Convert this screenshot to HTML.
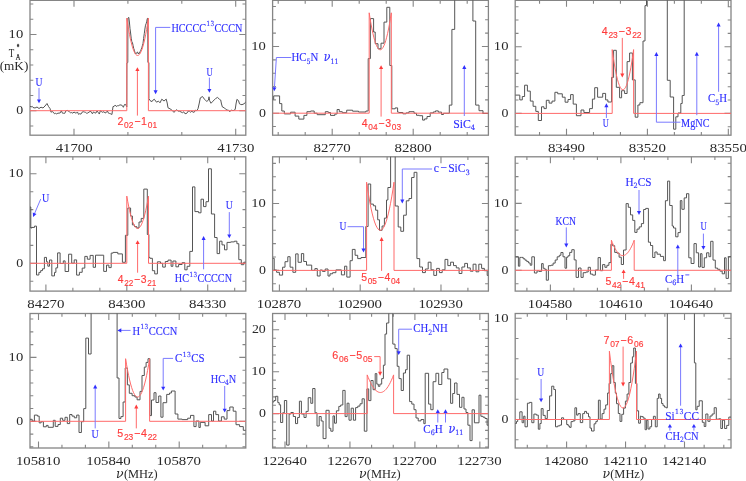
<!DOCTYPE html><html><head><meta charset="utf-8"><title>Spectra</title><style>html,body{margin:0;padding:0;background:#fff;}svg{display:block;}svg{font-family:"Liberation Serif", "DejaVu Serif", serif;}.tk{font-size:12.3px;fill:#222;}</style></head><body>
<svg width="746" height="481" viewBox="0 0 746 481">
<rect width="746" height="481" fill="#fff"/>
<defs>
<clipPath id="c0"><rect x="30" y="0.35" width="215.8" height="134.85"/></clipPath>
<clipPath id="c1"><rect x="272.6" y="0.35" width="215.8" height="134.85"/></clipPath>
<clipPath id="c2"><rect x="515.2" y="0.35" width="215.8" height="134.85"/></clipPath>
<clipPath id="c3"><rect x="30" y="156.8" width="215.8" height="134.3"/></clipPath>
<clipPath id="c4"><rect x="272.6" y="156.8" width="215.8" height="134.3"/></clipPath>
<clipPath id="c5"><rect x="515.2" y="156.8" width="215.8" height="134.3"/></clipPath>
<clipPath id="c6"><rect x="30" y="313.5" width="215.8" height="134.5"/></clipPath>
<clipPath id="c7"><rect x="272.6" y="313.5" width="215.8" height="134.5"/></clipPath>
<clipPath id="c8"><rect x="515.2" y="313.5" width="215.8" height="134.5"/></clipPath>
</defs>
<rect x="30" y="0.35" width="215.8" height="134.85" fill="none" stroke="#858585" stroke-width="1.3"/>
<path d="M74 135.2v-6.5M74 0.35v6.5M127.9 135.2v-3.3M127.9 0.35v3.3M181.8 135.2v-3.3M181.8 0.35v3.3M235.7 135.2v-6.5M235.7 0.35v6.5M30 125.94h3.3M245.8 125.94h-3.3M30 110.7h6.5M245.8 110.7h-6.5M30 95.46h3.3M245.8 95.46h-3.3M30 80.22h3.3M245.8 80.22h-3.3M30 64.98h3.3M245.8 64.98h-3.3M30 49.74h3.3M245.8 49.74h-3.3M30 34.5h6.5M245.8 34.5h-6.5M30 19.26h3.3M245.8 19.26h-3.3M30 4.02h3.3M245.8 4.02h-3.3" stroke="#858585" stroke-width="1.1" fill="none"/>
<rect x="272.6" y="0.35" width="215.8" height="134.85" fill="none" stroke="#858585" stroke-width="1.3"/>
<path d="M278.2 135.2v-3.3M278.2 0.35v3.3M305.2 135.2v-3.3M305.2 0.35v3.3M332.2 135.2v-6.5M332.2 0.35v6.5M359.2 135.2v-3.3M359.2 0.35v3.3M386.2 135.2v-3.3M386.2 0.35v3.3M413.2 135.2v-6.5M413.2 0.35v6.5M440.2 135.2v-3.3M440.2 0.35v3.3M467.2 135.2v-3.3M467.2 0.35v3.3M272.6 126.54h3.3M488.4 126.54h-3.3M272.6 113.2h6.5M488.4 113.2h-6.5M272.6 99.86h3.3M488.4 99.86h-3.3M272.6 86.52h3.3M488.4 86.52h-3.3M272.6 73.18h3.3M488.4 73.18h-3.3M272.6 59.84h3.3M488.4 59.84h-3.3M272.6 46.5h6.5M488.4 46.5h-6.5M272.6 33.16h3.3M488.4 33.16h-3.3M272.6 19.82h3.3M488.4 19.82h-3.3M272.6 6.48h3.3M488.4 6.48h-3.3" stroke="#858585" stroke-width="1.1" fill="none"/>
<rect x="515.2" y="0.35" width="215.8" height="134.85" fill="none" stroke="#858585" stroke-width="1.3"/>
<path d="M539.53 135.2v-3.3M539.53 0.35v3.3M566.5 135.2v-6.5M566.5 0.35v6.5M593.47 135.2v-3.3M593.47 0.35v3.3M620.44 135.2v-3.3M620.44 0.35v3.3M647.41 135.2v-6.5M647.41 0.35v6.5M674.38 135.2v-3.3M674.38 0.35v3.3M701.35 135.2v-3.3M701.35 0.35v3.3M728.32 135.2v-6.5M728.32 0.35v6.5M515.2 126.74h3.3M731 126.74h-3.3M515.2 113.4h6.5M731 113.4h-6.5M515.2 100.06h3.3M731 100.06h-3.3M515.2 86.72h3.3M731 86.72h-3.3M515.2 73.38h3.3M731 73.38h-3.3M515.2 60.04h3.3M731 60.04h-3.3M515.2 46.7h6.5M731 46.7h-6.5M515.2 33.36h3.3M731 33.36h-3.3M515.2 20.02h3.3M731 20.02h-3.3M515.2 6.68h3.3M731 6.68h-3.3" stroke="#858585" stroke-width="1.1" fill="none"/>
<rect x="30" y="156.8" width="215.8" height="134.3" fill="none" stroke="#858585" stroke-width="1.3"/>
<path d="M45.9 291.1v-6.5M45.9 156.8v6.5M72.87 291.1v-3.3M72.87 156.8v3.3M99.84 291.1v-3.3M99.84 156.8v3.3M126.81 291.1v-6.5M126.81 156.8v6.5M153.78 291.1v-3.3M153.78 156.8v3.3M180.75 291.1v-3.3M180.75 156.8v3.3M207.72 291.1v-6.5M207.72 156.8v6.5M234.69 291.1v-3.3M234.69 156.8v3.3M30 281.2h3.3M245.8 281.2h-3.3M30 263.3h6.5M245.8 263.3h-6.5M30 245.4h3.3M245.8 245.4h-3.3M30 227.5h3.3M245.8 227.5h-3.3M30 209.6h3.3M245.8 209.6h-3.3M30 191.7h3.3M245.8 191.7h-3.3M30 173.8h6.5M245.8 173.8h-6.5" stroke="#858585" stroke-width="1.1" fill="none"/>
<rect x="272.6" y="156.8" width="215.8" height="134.3" fill="none" stroke="#858585" stroke-width="1.3"/>
<path d="M279.4 291.1v-6.5M279.4 156.8v6.5M306.33 291.1v-3.3M306.33 156.8v3.3M333.26 291.1v-3.3M333.26 156.8v3.3M360.19 291.1v-6.5M360.19 156.8v6.5M387.12 291.1v-3.3M387.12 156.8v3.3M414.05 291.1v-3.3M414.05 156.8v3.3M440.98 291.1v-6.5M440.98 156.8v6.5M467.91 291.1v-3.3M467.91 156.8v3.3M272.6 283.78h3.3M488.4 283.78h-3.3M272.6 270.4h6.5M488.4 270.4h-6.5M272.6 257.02h3.3M488.4 257.02h-3.3M272.6 243.64h3.3M488.4 243.64h-3.3M272.6 230.26h3.3M488.4 230.26h-3.3M272.6 216.88h3.3M488.4 216.88h-3.3M272.6 203.5h6.5M488.4 203.5h-6.5M272.6 190.12h3.3M488.4 190.12h-3.3M272.6 176.74h3.3M488.4 176.74h-3.3M272.6 163.36h3.3M488.4 163.36h-3.3" stroke="#858585" stroke-width="1.1" fill="none"/>
<rect x="515.2" y="156.8" width="215.8" height="134.3" fill="none" stroke="#858585" stroke-width="1.3"/>
<path d="M526.9 291.1v-3.3M526.9 156.8v3.3M550.4 291.1v-6.5M550.4 156.8v6.5M573.9 291.1v-3.3M573.9 156.8v3.3M597.4 291.1v-3.3M597.4 156.8v3.3M620.9 291.1v-6.5M620.9 156.8v6.5M644.4 291.1v-3.3M644.4 156.8v3.3M667.9 291.1v-3.3M667.9 156.8v3.3M691.4 291.1v-6.5M691.4 156.8v6.5M714.9 291.1v-3.3M714.9 156.8v3.3M515.2 283.68h3.3M731 283.68h-3.3M515.2 270.3h6.5M731 270.3h-6.5M515.2 256.92h3.3M731 256.92h-3.3M515.2 243.54h3.3M731 243.54h-3.3M515.2 230.16h3.3M731 230.16h-3.3M515.2 216.78h3.3M731 216.78h-3.3M515.2 203.4h6.5M731 203.4h-6.5M515.2 190.02h3.3M731 190.02h-3.3M515.2 176.64h3.3M731 176.64h-3.3M515.2 163.26h3.3M731 163.26h-3.3" stroke="#858585" stroke-width="1.1" fill="none"/>
<rect x="30" y="313.5" width="215.8" height="134.5" fill="none" stroke="#858585" stroke-width="1.3"/>
<path d="M38.5 448v-6.5M38.5 313.5v6.5M61.95 448v-3.3M61.95 313.5v3.3M85.4 448v-3.3M85.4 313.5v3.3M108.85 448v-6.5M108.85 313.5v6.5M132.3 448v-3.3M132.3 313.5v3.3M155.75 448v-3.3M155.75 313.5v3.3M179.2 448v-6.5M179.2 313.5v6.5M202.65 448v-3.3M202.65 313.5v3.3M226.1 448v-3.3M226.1 313.5v3.3M30 446.86h3.3M245.8 446.86h-3.3M30 434.08h3.3M245.8 434.08h-3.3M30 421.3h6.5M245.8 421.3h-6.5M30 408.52h3.3M245.8 408.52h-3.3M30 395.74h3.3M245.8 395.74h-3.3M30 382.96h3.3M245.8 382.96h-3.3M30 370.18h3.3M245.8 370.18h-3.3M30 357.4h6.5M245.8 357.4h-6.5M30 344.62h3.3M245.8 344.62h-3.3M30 331.84h3.3M245.8 331.84h-3.3M30 319.06h3.3M245.8 319.06h-3.3" stroke="#858585" stroke-width="1.1" fill="none"/>
<rect x="272.6" y="313.5" width="215.8" height="134.5" fill="none" stroke="#858585" stroke-width="1.3"/>
<path d="M285 448v-6.5M285 313.5v6.5M306.65 448v-3.3M306.65 313.5v3.3M328.3 448v-3.3M328.3 313.5v3.3M349.95 448v-6.5M349.95 313.5v6.5M371.6 448v-3.3M371.6 313.5v3.3M393.25 448v-3.3M393.25 313.5v3.3M414.9 448v-6.5M414.9 313.5v6.5M436.55 448v-3.3M436.55 313.5v3.3M458.2 448v-3.3M458.2 313.5v3.3M479.85 448v-6.5M479.85 313.5v6.5M272.6 447.12h3.3M488.4 447.12h-3.3M272.6 438.74h3.3M488.4 438.74h-3.3M272.6 430.36h3.3M488.4 430.36h-3.3M272.6 421.98h3.3M488.4 421.98h-3.3M272.6 413.6h6.5M488.4 413.6h-6.5M272.6 405.22h3.3M488.4 405.22h-3.3M272.6 396.84h3.3M488.4 396.84h-3.3M272.6 388.46h3.3M488.4 388.46h-3.3M272.6 380.08h3.3M488.4 380.08h-3.3M272.6 371.7h6.5M488.4 371.7h-6.5M272.6 363.32h3.3M488.4 363.32h-3.3M272.6 354.94h3.3M488.4 354.94h-3.3M272.6 346.56h3.3M488.4 346.56h-3.3M272.6 338.18h3.3M488.4 338.18h-3.3M272.6 329.8h6.5M488.4 329.8h-6.5M272.6 321.42h3.3M488.4 321.42h-3.3" stroke="#858585" stroke-width="1.1" fill="none"/>
<rect x="515.2" y="313.5" width="215.8" height="134.5" fill="none" stroke="#858585" stroke-width="1.3"/>
<path d="M527.3 448v-3.3M527.3 313.5v3.3M546.95 448v-3.3M546.95 313.5v3.3M566.6 448v-6.5M566.6 313.5v6.5M586.25 448v-3.3M586.25 313.5v3.3M605.9 448v-3.3M605.9 313.5v3.3M625.55 448v-6.5M625.55 313.5v6.5M645.2 448v-3.3M645.2 313.5v3.3M664.85 448v-3.3M664.85 313.5v3.3M684.5 448v-6.5M684.5 313.5v6.5M704.15 448v-3.3M704.15 313.5v3.3M723.8 448v-3.3M723.8 313.5v3.3M515.2 439.76h3.3M731 439.76h-3.3M515.2 419.5h6.5M731 419.5h-6.5M515.2 399.24h3.3M731 399.24h-3.3M515.2 378.98h3.3M731 378.98h-3.3M515.2 358.72h3.3M731 358.72h-3.3M515.2 338.46h3.3M731 338.46h-3.3M515.2 318.2h6.5M731 318.2h-6.5" stroke="#858585" stroke-width="1.1" fill="none"/>
<g clip-path="url(#c0)">
<path d="M30 106.3 31.15 106.86 32.3 106.4 33 107.5 35 108 37 107 39 108.5 41 107.2 43 108 45 106 47 103.5 48.5 106.5 50 108.5 51 112.24 52.15 111.47 53.3 112.13 54.45 113.77 55.6 113.32 56.75 113.93 57.9 113.15 59.05 113.16 60.2 112.92 61.35 110.77 62.5 113.21 63.65 113.3 64.8 113.31 65.95 110.81 67.1 110.25 68.25 111.12 69.4 111.77 70.55 112.78 71.7 112.58 72.85 113.19 74 111.99 75.15 112.83 76.3 113.1 77.45 111.95 78.6 114.43 79.75 113.6 80.9 114.16 82.05 112.21 83.2 111.68 84.35 112.02 85.5 112.36 86.65 113.27 87.8 113.02 88.95 112.17 90.1 111.42 91.25 111.77 92.4 113.83 93.55 111.92 94.7 112.74 95.85 113.12 97 111 98.15 112.34 99.3 114.04 100.45 110.59 101.6 111.83 102.75 112.33 103.9 111.61 105.05 112.97 106.2 112.6 107.35 110.93 108.5 113.21 109.65 113.49 110.8 113.86 111.95 114.49 113 106.55 114.15 106.38 115.3 104.99 116.45 106.55 117.6 105.68 118.75 105.66 119.9 104.88 121.05 105.01 122.2 105.45 123.35 107.29 124.5 104.47 125.65 104.45 126.8 107 126.9 63 127.8 62.5 127.9 18 128.8 17.4 129.4 22 130 28.7 130.6 33 131.2 38.2 131.8 41.5 132.5 43 133.1 45.5 133.7 48.4 134.4 50.3 135 52.8 135.6 54 136.3 52.8 136.9 53.4 137.4 52 138.1 52.6 138.7 54 139.3 53.4 140 51.8 140.6 50.8 141.2 49.3 141.9 47.4 142.5 45.2 143 43.4 143.6 38.5 144.3 33.5 144.9 29 145.5 25.2 146.1 23.8 146.8 21.2 147.3 18.5 147.8 18.2 147.9 62.4 148.9 62.6 148.9 98.6 149 98.73 150 100.59 152 101.62 153.15 99.91 154.3 99.21 156.5 102.2 158.4 101.1 160 102.8 161.8 99.18 164 101.04 166.2 99.1 167.2 103 168 107.81 170 108.79 172 110.24 174 112.4 175.25 110.9 176.5 109.64 178 111.03 179.5 111.24 181 111.94 182.5 112.7 183.67 111.77 184.83 113.57 186 113.63 187.17 112.89 188.33 111.01 189.5 111.25 190.67 112.3 191.83 111.07 193 112.2 194.25 112.16 195.5 110.18 196.75 110.69 198 108.7 199.3 103 200.3 97.9 202.5 96.52 204.5 99.28 205.65 100.56 206.8 101.37 208.4 100.13 209 96.8 209.6 100.64 211 103.27 213 101.17 214.25 99.86 215.5 98.62 217.5 97.42 219.5 99.31 220.7 100 221.5 104 222.4 106.96 224.5 107.94 225.75 109.33 227 110.02 228.5 110.34 230 111.67 231.5 109.94 233 110.79 235.2 109.5 236 104 236.9 99.4 238.5 100.57 239.5 103.85 240.75 104.47 242 104.67 244 103.79 245.8 102" stroke="#555555" stroke-width="1.0" fill="none" stroke-linejoin="round"/>
<path d="M30 110.7L126.8 110.7L126.8 18.1L126.8 18.1L127.7 24.07L128.6 29.53L129.5 34.46L130.4 38.88L131.3 42.77L132.2 46.15L133.1 49.01L134 51.34L134.9 53.16L135.8 54.46L136.7 55.24L137.6 55.5L138.5 55.24L139.4 54.46L140.3 53.16L141.2 51.34L142.1 49.01L143 46.15L143.9 42.77L144.8 38.88L145.7 34.46L146.6 29.53L147.5 24.07L148.4 18.1L148.4 18.1L148.4 110.7L245.8 110.7" stroke="#ff6a6a" stroke-width="1.0" fill="none"/>
</g>
<g clip-path="url(#c1)">
<path d="M272.6 99.2H273.7V95.9H279.6V103.6H281.8V111H284.3V113.9H290.6V112.2H295.1V116.1H298.8V119.1H303.9V115.4H306.9V111.7H310.6V111H314.2V113.2H317.2V114.7H325.3V111.7H328.3V112.5H330.5V115.4H334.9V114H337.1V109.5H339.3V111.7H342.3V112.7H346.7V110.2H352.6V111.2H358.5V112H365.9V111H368.2V58.6H370.4V18.6H373.6V32H375.2V43.7H378V48.8H381V43.2H384V22.1H386.8V7.3H389.8V65.5H391.8V108.8H395.2V107.9H397.6V112.1H398.8V112.5H402.9V113.8H406.1V112.9H408.9V111.7H414.1V113.3H416.5V115.3H419.4V115.7H422.6V120.1H424.6V118.9H427V116.5H430.2V112.9H433.4V111.9H435.5V110.9H438.3V112.1H441.5V114.5H443.5V113.3H449.3V105.1H451.9V29.4H454.7V-30H472.9V21H475.7V105.1H479V110.7H483V113.5H488.4" stroke="#555555" stroke-width="1.0" fill="none"/>
<path d="M272.6 113.2L369.2 113.2L369.2 12.8L369.2 12.8L370.12 18.71L371.04 24.11L371.96 28.99L372.88 33.36L373.8 37.21L374.73 40.55L375.65 43.38L376.57 45.69L377.49 47.49L378.41 48.77L379.33 49.54L380.25 49.8L381.17 49.54L382.09 48.77L383.01 47.49L383.93 45.69L384.85 43.38L385.77 40.55L386.7 37.21L387.62 33.36L388.54 28.99L389.46 24.11L390.38 18.71L391.3 12.8L391.3 12.8L391.3 113.2L488.4 113.2" stroke="#ff6a6a" stroke-width="1.0" fill="none"/>
</g>
<g clip-path="url(#c2)">
<path d="M515.2 95.1H519.8V99.9H522.3V96.5H524.6V85.2H527.4V91.1H530.3V101.1H533.1V106.3H535.8V111.4H538.3V120.5H541.5V106.8H544V108.6H546.3V100.3H549.1V103.1H552V101.1H554.9V92.3H557.7V93.8H562.3V97.2H565.1V102.2H568V99.5H570.6V94.6H573.2V104.1H576.4V115.7H581V110H583.9V112.5H589.6V108.6H592.4V99.1H594.7V87.7H597.6V97.2H602.7V93.4H605.6V99.9H607.9V102H611.6V77.4H613.6V50.3H616.3V87.3H619.6V97.8H621.6V90.7H624.6V93.5H627.1V61.6H629.6V53H632.4V79.9H635.2V117.2H637.9V105H639.9V102.7H643V41H645V5.6H646.5V-30H667.3V80.3H670.2V97H673.6V129.2H675.8V116.8H678V113H680.8V103.5H682.2V95.5H684.2V-30H731" stroke="#555555" stroke-width="1.0" fill="none"/>
<path d="M515.2 113.4L612.2 113.4L612.2 49.6L612.2 49.6L613.09 56.02L613.98 61.88L614.88 67.19L615.77 71.93L616.66 76.12L617.55 79.75L618.44 82.82L619.33 85.33L620.23 87.29L621.12 88.68L622.01 89.52L622.9 89.8L623.79 89.52L624.68 88.68L625.58 87.29L626.47 85.33L627.36 82.82L628.25 79.75L629.14 76.12L630.03 71.93L630.93 67.19L631.82 61.88L632.71 56.02L633.6 49.6L633.6 49.6L633.6 113.4L731 113.4" stroke="#ff6a6a" stroke-width="1.0" fill="none"/>
</g>
<g clip-path="url(#c3)">
<path d="M30 207H30.8V228H31.9V227.4H34.5V226.1H36.5V275H38.9V272.4H40.7V270.6H42.5V268.8H44.4V257.4H46.5V261.8H47.8V266.2H49.5V260H51.8V275.9H54.5V272.4H55.9V267.9H57.6V252.9H60.1V263.5H63.3V260.9H65.1V271.5H68.6V254.2H71.7V263.2H74.2V259.9H76.6V275.1H79.4V272.3H82.2V268.1H84.8V256.4H87.3V259.2H90.1V255.4H93.2V267.3H95.5V255.2H103.7V271.4H106.5V265.1H108.9V267.6H111.2V253.1H113.1V252.4H117.8V253.9H122.4V262.3H125.4V235.3H127.8V208H130.6V216H132.4V224.9H134.5V226.6H136.8V228H139V222H141.2V218.4H143.8V189.1H147.3V234.5H148.9V257.4H149.9V258.3H152.4V270.7H154.7V273.9H157.4V261.8H160.5V263.3H162.7V267.1H165.3V261.5H168V260.1H171.1V266.3H172.9V261H175.9V266.8H178.6V264.5H182.1V262.7H184.8V269.8H187.1V266.3H189.8V251.4H192.5V186.9H194.9V211.6H198.6V212.8H201V199.2H203.5V206.6H206V201.7H208.5V168.8H211.4V214H214.6V237.5H217.1V253.6H219.6V241.2H222V244.9H224.5V249.8H227V242.4H230.7V241.9H234.4V241.2H236.9V243.7H238.8V259.7H241.3V264.7H243.8V262.2H245.8" stroke="#555555" stroke-width="1.0" fill="none"/>
<path d="M30 263.3L126.8 263.3L126.8 196.1L126.8 196.1L127.7 201.27L128.61 206L129.51 210.27L130.42 214.1L131.32 217.47L132.22 220.4L133.13 222.87L134.03 224.9L134.94 226.47L135.84 227.6L136.75 228.28L137.65 228.5L138.55 228.28L139.46 227.6L140.36 226.47L141.27 224.9L142.17 222.88L143.07 220.4L143.98 217.48L144.88 214.1L145.79 210.28L146.69 206L147.6 201.28L148.5 196.1L148.5 196.1L148.5 263.3L245.8 263.3" stroke="#ff6a6a" stroke-width="1.0" fill="none"/>
</g>
<g clip-path="url(#c4)">
<path d="M272.6 258.3H274.2V270H276.6V272.3H279.4V275.1H282.6V267.2H285V261.7H287.8V256.7H290.1V267.2H292.9V272.3H295.7V253.9H298.1V262.3H301.4V253.6H303.7V261.5H306.5V265.1H311.7V270.4H314.9V268.6H317.3V276H320.1V270H322.4V271.4H325.2V269H328V276H330V273.8H332.6V272.7H335.9V269.9H341.4V274.9H344.6V266.2H346.8V277.1H350.1V260.7H352.3V249.4H355.1V255.3H357.7V258.6H361V257.5H365.8V226.5H368.1V184H370.7V204.1H373.4V205.8H375.6V210.2H377.7V219.8H379.5V230.3H382.1V226H384.4V218.1H386.5V200H387.9V187.5H390.6V-30H395.2V206H398.2V227H400.8V231.3H403.6V215.2H406.3V200.8H409V198.5H411.6V177.5H414.1V172.3H416.9V258.6H419.7V267H422.5V272.6H425.4V269H428.2V262.2H431V269.8H433.8V275.4H436.6V268.4H439.4V272.6H442.2V269.8H445V259.4H447.8V265.6H450.6V262.2H453.5V265.6H456.3V267.9H459.1V273.5H461.9V267H464.7V263.4H467.5V267.9H470.3V271.2H473.1V264.2H476V271.8H478.8V264.2H481.6V268.4H484.4V270.7H487.2V275.4H488.4" stroke="#555555" stroke-width="1.0" fill="none"/>
<path d="M272.6 270.4L366.6 270.4L366.6 182.2L366.6 182.2L367.74 189.88L368.88 196.9L370.03 203.24L371.17 208.92L372.31 213.93L373.45 218.28L374.59 221.95L375.73 224.96L376.88 227.29L378.02 228.96L379.16 229.97L380.3 230.3L381.44 229.97L382.58 228.96L383.73 227.29L384.87 224.96L386.01 221.95L387.15 218.28L388.29 213.93L389.43 208.92L390.57 203.24L391.72 196.9L392.86 189.88L394 182.2L394 182.2L394 270.4L488.4 270.4" stroke="#ff6a6a" stroke-width="1.0" fill="none"/>
</g>
<g clip-path="url(#c5)">
<path d="M515.2 256.8H518.4V266.2H519.8V257.4H521.4V257.4H523.2V258.8H525V260.2H526.8V261.6H528.6V263H530.2V265.2H531.8V256.8H534.4V273H537V270.9H539V271.4H541.6V263.6H543.2V268.3H544.8V269.3H546.3V280.2H548.4V265.7H551V265.2H553.1V263.1H555.2V260H557.2V256.8H559.3V255.3H560.9V252.5H563V256.8H565V268.2H566.6V257.2H568V255.8H569.7V252.4H571.8V249.7H574.2V259.9H576.1V277.4H578.5V268H581V277.4H583.2V272.7H585.9V272H588.2V267.3H590.4V274.1H592.7V275.1H595.4V270H598.1V257.6H600.4V270.7H602.6V264.6H604.9V267.3H606.9V265.3H608.9V262.6H610.9V244.3H612.6V245.7H614.7V252.4H617V253.1H619.1V257.2H621.3V264.5H623.5V250H626.1V203.6H628.3V207.3H630.5V214.9H632.7V220.4H634.8V232.4H637V229.1H639.2V226.9H641.4V223.6H643.6V209.5H645.7V208.4H648.4V242.2H650.5V245.5H652.7V257.5H654.9V252H657.1V254.2H660.4V256.4H663.6V260.7H665.4V200.7H667.6V181.1H669.7V205.5H672.2V226H673.5V228H675.7V236.8H678V232.6H680.3V200.6H681.9V209.3H684.2V197.9H686.5V193.7H688.8V257.8H691.1V263.5H694V243.6H696.3V252.8H698.6V267H700.4V253.7H702V267.4H704.3V257.8H706.6V252.8H708.9V256.7H710.7V241.3H713V260.1H715.3V268.1H717.6V269.3H719.9V271.1H722.2V273.8H724.5V257.8H726.1V278.4H728.4V256.7H731" stroke="#555555" stroke-width="1.0" fill="none"/>
<path d="M515.2 270.3L611.4 270.3L611.4 240.2L611.4 240.2L612.35 242.66L613.3 244.91L614.25 246.94L615.2 248.76L616.15 250.36L617.1 251.75L618.05 252.93L619 253.89L619.95 254.64L620.9 255.17L621.85 255.49L622.8 255.6L623.75 255.49L624.7 255.17L625.65 254.64L626.6 253.89L627.55 252.93L628.5 251.75L629.45 250.36L630.4 248.76L631.35 246.94L632.3 244.91L633.25 242.66L634.2 240.2L634.2 240.2L634.2 270.3L731 270.3" stroke="#ff6a6a" stroke-width="1.0" fill="none"/>
</g>
<g clip-path="url(#c6)">
<path d="M30 419.3H32.2V421.2H34.4V415.1H37.4V416.1H39.2V422.9H41.1V421.7H43.4V426.8H46.3V425.4H48.1V427.3H53.3V420.3H55.2V426.4H58V424.5H60.3V418.2H62.6V420.3H65V417.3H67.3V423.6H69.7V414.5H72V416.1H74.3V417.8H76.7V415.1H79V432.5H81.4V421.7H83.7V408.6H85.8V338.1H88.5V354H91.1V-30H117.1V378H119V418.5H120.9V416.6H123.1V402H125.2V368H127.4V384.9H129.3V393.3H132.1V395.7H134.9V397H137.1V399.8H140V391.4H142V375.5H144.3V367.1H146.1V362.4H148V358.7H149.9V415.6H151.5V400H154V392.7H156V402.5H158.7V396H160.9V417.2H163V402.7H166.7V394.4H169.5V393H171.4V391H175.1V414H177.9V419.1H182.1V419.6H187.7V418.2H190.5V415.4H193.9V426.6H196.1V421H198.9V427.5H200.3V422.4H205.1V425.8H208.7V414.6H211.5V421H213.5V411.2H215.8V414.6H218.6V421H221.4V416.8H224.2V419.1H227V410.6H229.8V407H233.2V411.2H236V424.7H239.6V426.6H243.3V430.3H245.8" stroke="#555555" stroke-width="1.0" fill="none"/>
<path d="M30 421.3L125.6 421.3L125.6 358.7L125.6 358.7L126.6 364.82L127.6 370.4L128.6 375.46L129.6 379.98L130.6 383.97L131.6 387.43L132.6 390.35L133.6 392.74L134.6 394.61L135.6 395.94L136.6 396.73L137.6 397L138.6 396.73L139.6 395.94L140.6 394.61L141.6 392.74L142.6 390.35L143.6 387.43L144.6 383.97L145.6 379.98L146.6 375.46L147.6 370.4L148.6 364.82L149.6 358.7L149.6 358.7L149.6 421.3L245.8 421.3" stroke="#ff6a6a" stroke-width="1.0" fill="none"/>
</g>
<g clip-path="url(#c7)">
<path d="M272.6 401.9H274V400.5H275.7V396.3H277.8V402.6H279.2V404.8H280.6V422.5H282.7V412.8H284.4V400.5H286.7V445.1H289.1V414H290.9V412.5H293.3V416.5H295.5V423.6H297.6V417.5H299.4V401.2H301.4V414H304V417.5H306.1V411.4H308.2V397.7H310.8V403.3H312.7V388.5H315V412.8H317V426H319.2V416.5H321.2V421H323.1V438.6H326V410.3H329.1V428.3H330.8V431.2H333V415.9H334.5V423.2H336.4V410.8H338.8V406.4H340.7V405H342.8V390.4H345.1V416.6H347.1V403.2H349V420.2H351.2V408.2H353.4V420.2H355.6V407.6H357.8V406.1H360V403.8H362.1V398.8H364.3V431.2H366.9V388.9H368.7V400.6H370.9V380.5H373.1V389.7H375.2V373.6H376.8V384.1H378.3V386.3H379.9V384.1H381.7V378.6H383.4V365.2H385V334.1H386.6V323H388.8V-30H392.8V344.1H395V348.6H397.2V366.3H399V378.6H401.2V390.5H403.4V373H405.5V369.7H407.2V355.2H409.6V401.6H411.8V404.1H414V409.7H416V418H418.2V420.9H421V419.5H423.8V423.7H425.2V373.3H428.6V404.1H430.8V409.7H433.1V381.7H435.9V373.3H438.7V384.5H441.8V372.5H444V369H447.8V378.9H450.6V403.3H452.7V393.5H454.6V383H457V394.4H459.5V407.3H461.9V397.3H464V409H466V412.5H467.9V425.2H470V440.6H472.1V409.8H474.4V422.8H479V395.2H480.9V416.3H483V417.2H485V418.5H487.1V425.2H488.4" stroke="#555555" stroke-width="1.0" fill="none"/>
<path d="M272.6 413.6L367.2 413.6L367.2 374.9L367.2 374.9L368.3 377.71L369.4 380.28L370.5 382.6L371.6 384.68L372.7 386.51L373.8 388.1L374.9 389.44L376 390.54L377.1 391.4L378.2 392.01L379.3 392.38L380.4 392.5L381.5 392.38L382.6 392.01L383.7 391.4L384.8 390.54L385.9 389.44L387 388.1L388.1 386.51L389.2 384.68L390.3 382.6L391.4 380.28L392.5 377.71L393.6 374.9L393.6 374.9L393.6 413.6L488.4 413.6" stroke="#ff6a6a" stroke-width="1.0" fill="none"/>
</g>
<g clip-path="url(#c8)">
<path d="M515.2 423.5H516.5V421.5H517.7V419.5H519.8V411.8H522.1V422.7H523.7V416.2H525V426.8H527.4V403.2H529.5V402.4H531.8V422.7H533.9V414.1H536.3V415.1H538.3V429.2H539.9V423.5H541.2V408.6H543.1V415.4H545.2V418.6H547.3V410.5H549.6V395.9H551.7V386.2H553.8V389.5H555.5V426.8H557.7V425.9H559.8V425.1H561.5V417.8H563.6V419.5H566.7V424.5H568.2V426H569.6V427.4H571.1V421.6H573V420.9H574.9V407.8H576.6V415.1H578.1V413.6H580.3V422.6H582.7V413.6H584.6V411.4H586.5V413.3H588.5V416.8H590V428.1H591.5V431H594.1V423.8H595.8V421.6H597.3V419.4H598.4V400.2H600.2V419.1H602.1V413.6H604V409.2H605.7V404.9H607.6V393H609.1V383.4H610.7V373.6H612.1V365.7H613.8V382.5H615.3V393.1H616.5V403.7H618.3V413.5H620V421.4H621.8V414.3H623.6V408.1H625.4V401.1H627.1V394H628.9V382.5H630.7V363H632.4V356.8H633.7V348H635.4V383.4H636.9V410.8H638.6V423.2H640.4V416.1H641.2V416.6H643.2V418.1H645.1V429.7H646.6V420.2H648V429H649.9V426.8H651.6V419.5H653.4V416.3H655.3V426.8H657.2V398.4H658.6V394H660.1V398.4H661.6V403.5H663V405.7H664.5V407.1H666.2V407.9H667.3V-30H694.4V362.9H695.8V409.8H697.1V406.3H699.2V400.8H702.3V422.3H704.2V426.5H705.8V414H707.9V421.3H710V416H712.1V414H714.2V407.7H716.3V419.2H718.8V418.8H720.8V428.5H722.5V420.2H724.6V428.5H726.7V425.4H728.8V417.1H731" stroke="#555555" stroke-width="1.0" fill="none"/>
<path d="M515.2 419.5L609.4 419.5L609.4 351.2L609.4 351.2L610.53 360.27L611.66 368.56L612.79 376.05L613.92 382.76L615.05 388.67L616.17 393.8L617.3 398.14L618.43 401.69L619.56 404.45L620.69 406.42L621.82 407.61L622.95 408L624.08 407.61L625.21 406.42L626.34 404.45L627.47 401.69L628.6 398.14L629.73 393.8L630.85 388.67L631.98 382.76L633.11 376.05L634.24 368.56L635.37 360.27L636.5 351.2L636.5 351.2L636.5 419.5L731 419.5" stroke="#ff6a6a" stroke-width="1.0" fill="none"/>
</g>
<g transform="translate(35.51 86.2) scale(0.767 1)" fill="#3030ff" font-size="12.6" stroke="#3030ff" stroke-width="0.15"><text x="0" y="0">U</text></g>
<path d="M39 87.9L39 99.9" stroke="#7a7aff" stroke-width="1.0" fill="none"/><path d="M39 103.3L36.95 99.4L41.05 99.4Z" fill="#3030ff"/>
<g transform="translate(206.53 75.5) scale(0.686 1)" fill="#3030ff" font-size="12.6" stroke="#3030ff" stroke-width="0.15"><text x="0" y="0">U</text></g>
<path d="M209.4 77.6L209.4 89.4" stroke="#7a7aff" stroke-width="1.0" fill="none"/><path d="M209.4 92.8L207.35 88.9L211.45 88.9Z" fill="#3030ff"/>
<g transform="translate(171.42 31.7) scale(0.811 1)" fill="#3030ff" font-size="12.6" stroke="#3030ff" stroke-width="0.15"><text x="0" y="0">HCCCC</text><text x="43.22" y="-5.4" font-size="7.03" font-family="DejaVu Serif, serif" letter-spacing="0.5">13</text><text x="53.16" y="0">CCCN</text></g>
<path d="M170.3 27.4L155.6 27.4" stroke="#7a7aff" stroke-width="1.0" fill="none"/>
<path d="M155.6 27.4L155.6 90.8" stroke="#7a7aff" stroke-width="1.0" fill="none"/><path d="M155.6 94.2L153.55 90.3L157.65 90.3Z" fill="#3030ff"/>
<g transform="translate(117.47 124.7) scale(1.024 1)" fill="#ff3c3c" font-size="10.4" font-family="Liberation Sans, Arial, sans-serif" stroke="#ff3c3c" stroke-width="0.15"><text x="0" y="0">2</text><text x="6.48" y="3" font-size="8.22">02</text><text x="16.32" y="0">−</text><text x="23.1" y="0">1</text><text x="29.58" y="3" font-size="8.22">01</text></g>
<path d="M137.4 115.6L137.4 70.6" stroke="#ff6a6a" stroke-width="1.0" fill="none"/><path d="M137.4 67.2L139.45 71.1L135.35 71.1Z" fill="#ff3c3c"/>
<g transform="translate(291.5 61.4) scale(0.860 1)" fill="#3030ff" font-size="12.6" stroke="#3030ff" stroke-width="0.15"><text x="0" y="0">HC</text><text x="17.5" y="2.4" font-size="7.38" font-family="DejaVu Serif, serif">5</text><text x="22.2" y="0">N</text><text x="37.6" y="0" font-style="italic" font-family="DejaVu Serif, serif">ν</text><text x="45.26" y="2.4" font-size="7.38" font-family="DejaVu Serif, serif">11</text></g>
<path d="M291.3 57.5L276.4 57.5" stroke="#7a7aff" stroke-width="1.0" fill="none"/>
<path d="M276.4 57.5L274.42 87.91" stroke="#7a7aff" stroke-width="1.0" fill="none"/><path d="M274.2 91.3L272.41 87.28L276.5 87.54Z" fill="#3030ff"/>
<g transform="translate(361.76 126.5) scale(1.015 1)" fill="#ff3c3c" font-size="10.4" font-family="Liberation Sans, Arial, sans-serif" stroke="#ff3c3c" stroke-width="0.15"><text x="0" y="0">4</text><text x="6.48" y="3" font-size="8.22">04</text><text x="16.32" y="0">−</text><text x="23.1" y="0">3</text><text x="29.58" y="3" font-size="8.22">03</text></g>
<path d="M381.1 116.6L381.1 68.6" stroke="#ff6a6a" stroke-width="1.0" fill="none"/><path d="M381.1 65.2L383.15 69.1L379.05 69.1Z" fill="#ff3c3c"/>
<g transform="translate(453.21 127.9) scale(0.934 1)" fill="#3030ff" font-size="12.6" stroke="#3030ff" stroke-width="0.15"><text x="0" y="0">SiC</text><text x="18.91" y="2.4" font-size="7.38" font-family="DejaVu Serif, serif">4</text></g>
<path d="M464.3 116L464.3 68.4" stroke="#7a7aff" stroke-width="1.0" fill="none"/><path d="M464.3 65L466.35 68.9L462.25 68.9Z" fill="#3030ff"/>
<g transform="translate(601.76 34.7) scale(1.027 1)" fill="#ff3c3c" font-size="10.4" font-family="Liberation Sans, Arial, sans-serif" stroke="#ff3c3c" stroke-width="0.15"><text x="0" y="0">4</text><text x="6.48" y="3" font-size="8.22">23</text><text x="16.32" y="0">−</text><text x="23.1" y="0">3</text><text x="29.58" y="3" font-size="8.22">22</text></g>
<path d="M622.3 37.9L622.3 74" stroke="#ff6a6a" stroke-width="1.0" fill="none"/><path d="M622.3 77.4L620.25 73.5L624.35 73.5Z" fill="#ff3c3c"/>
<g transform="translate(602.73 127.4) scale(0.674 1)" fill="#3030ff" font-size="12.6" stroke="#3030ff" stroke-width="0.15"><text x="0" y="0">U</text></g>
<path d="M606.4 117.9L606.4 106.7" stroke="#7a7aff" stroke-width="1.0" fill="none"/><path d="M606.4 103.3L608.45 107.2L604.35 107.2Z" fill="#3030ff"/>
<g transform="translate(681.12 126.9) scale(0.812 1)" fill="#3030ff" font-size="12.6" stroke="#3030ff" stroke-width="0.15"><text x="0" y="0">MgNC</text></g>
<path d="M680.4 122.2L656.4 122.2" stroke="#7a7aff" stroke-width="1.0" fill="none"/>
<path d="M656.4 122.2L656.4 55.4" stroke="#7a7aff" stroke-width="1.0" fill="none"/><path d="M656.4 52L658.45 55.9L654.35 55.9Z" fill="#3030ff"/>
<path d="M696.8 115.2L696.8 55.2" stroke="#7a7aff" stroke-width="1.0" fill="none"/><path d="M696.8 51.8L698.85 55.7L694.75 55.7Z" fill="#3030ff"/>
<g transform="translate(708.07 102.2) scale(0.854 1)" fill="#3030ff" font-size="12.6" stroke="#3030ff" stroke-width="0.15"><text x="0" y="0">C</text><text x="8.4" y="2.4" font-size="7.38" font-family="DejaVu Serif, serif">5</text><text x="13.1" y="0">H</text></g>
<path d="M718.6 91.8L718.6 25.9" stroke="#7a7aff" stroke-width="1.0" fill="none"/><path d="M718.6 22.5L720.65 26.4L716.55 26.4Z" fill="#3030ff"/>
<g transform="translate(42 201.6) scale(0.802 1)" fill="#3030ff" font-size="12.6" stroke="#3030ff" stroke-width="0.15"><text x="0" y="0">U</text></g>
<path d="M40.7 199.1L34.44 213.77" stroke="#7a7aff" stroke-width="1.0" fill="none"/><path d="M33.1 216.9L32.75 212.51L36.52 214.12Z" fill="#3030ff"/>
<g transform="translate(117.77 283) scale(0.993 1)" fill="#ff3c3c" font-size="10.4" font-family="Liberation Sans, Arial, sans-serif" stroke="#ff3c3c" stroke-width="0.15"><text x="0" y="0">4</text><text x="6.48" y="3" font-size="8.22">22</text><text x="16.32" y="0">−</text><text x="23.1" y="0">3</text><text x="29.58" y="3" font-size="8.22">21</text></g>
<path d="M137.6 272.7L137.6 243.6" stroke="#ff6a6a" stroke-width="1.0" fill="none"/><path d="M137.6 240.2L139.65 244.1L135.55 244.1Z" fill="#ff3c3c"/>
<g transform="translate(174.82 282.2) scale(0.810 1)" fill="#3030ff" font-size="12.6" stroke="#3030ff" stroke-width="0.15"><text x="0" y="0">HC</text><text x="18" y="-5.4" font-size="7.03" font-family="DejaVu Serif, serif" letter-spacing="0.5">13</text><text x="27.95" y="0">CCCCN</text></g>
<path d="M203.6 269.3L203.6 239.4" stroke="#7a7aff" stroke-width="1.0" fill="none"/><path d="M203.6 236L205.65 239.9L201.55 239.9Z" fill="#3030ff"/>
<g transform="translate(225.7 208.8) scale(0.779 1)" fill="#3030ff" font-size="12.6" stroke="#3030ff" stroke-width="0.15"><text x="0" y="0">U</text></g>
<path d="M229.3 212.1L229.3 234.9" stroke="#7a7aff" stroke-width="1.0" fill="none"/><path d="M229.3 238.3L227.25 234.4L231.35 234.4Z" fill="#3030ff"/>
<g transform="translate(339.51 229.8) scale(0.756 1)" fill="#3030ff" font-size="12.6" stroke="#3030ff" stroke-width="0.15"><text x="0" y="0">U</text></g>
<path d="M347.6 226.7L363.5 226.7" stroke="#7a7aff" stroke-width="1.0" fill="none"/>
<path d="M363.5 226.7L363.5 249" stroke="#7a7aff" stroke-width="1.0" fill="none"/><path d="M363.5 252.4L361.45 248.5L365.55 248.5Z" fill="#3030ff"/>
<g transform="translate(361.18 280.5) scale(1.009 1)" fill="#ff3c3c" font-size="10.4" font-family="Liberation Sans, Arial, sans-serif" stroke="#ff3c3c" stroke-width="0.15"><text x="0" y="0">5</text><text x="6.48" y="3" font-size="8.22">05</text><text x="16.32" y="0">−</text><text x="23.1" y="0">4</text><text x="29.58" y="3" font-size="8.22">04</text></g>
<path d="M381.6 270.9L381.6 240.4" stroke="#ff6a6a" stroke-width="1.0" fill="none"/><path d="M381.6 237L383.65 240.9L379.55 240.9Z" fill="#ff3c3c"/>
<g transform="translate(433.77 172.3) scale(0.919 1)" fill="#3030ff" font-size="12.6" stroke="#3030ff" stroke-width="0.15"><text x="0" y="0">c</text><text x="7.09" y="0">−</text><text x="15.7" y="0">SiC</text><text x="34.61" y="2.4" font-size="7.38" font-family="DejaVu Serif, serif">3</text></g>
<path d="M432.1 169L402.3 169" stroke="#7a7aff" stroke-width="1.0" fill="none"/>
<path d="M402.3 169L402.3 200" stroke="#7a7aff" stroke-width="1.0" fill="none"/><path d="M402.3 203.4L400.25 199.5L404.35 199.5Z" fill="#3030ff"/>
<g transform="translate(555.53 224.9) scale(0.770 1)" fill="#3030ff" font-size="12.6" stroke="#3030ff" stroke-width="0.15"><text x="0" y="0">KCN</text></g>
<path d="M566.3 227.4L566.3 244" stroke="#7a7aff" stroke-width="1.0" fill="none"/><path d="M566.3 247.4L564.25 243.5L568.35 243.5Z" fill="#3030ff"/>
<g transform="translate(625.39 185.9) scale(0.890 1)" fill="#3030ff" font-size="12.6" stroke="#3030ff" stroke-width="0.15"><text x="0" y="0">H</text><text x="9.1" y="2.4" font-size="7.38" font-family="DejaVu Serif, serif">2</text><text x="13.8" y="0">CS</text></g>
<path d="M639 190L639 211.5" stroke="#7a7aff" stroke-width="1.0" fill="none"/><path d="M639 214.9L636.95 211L641.05 211Z" fill="#3030ff"/>
<g transform="translate(665.07 282.7) scale(0.863 1)" fill="#3030ff" font-size="12.6" stroke="#3030ff" stroke-width="0.15"><text x="0" y="0">C</text><text x="8.4" y="2.4" font-size="7.38" font-family="DejaVu Serif, serif">6</text><text x="13.1" y="0">H</text><text x="22.7" y="-5.4" font-size="7.03" font-family="DejaVu Serif, serif" letter-spacing="0.5">−</text></g>
<path d="M677.8 275L677.8 247.8" stroke="#7a7aff" stroke-width="1.0" fill="none"/><path d="M677.8 244.4L679.85 248.3L675.75 248.3Z" fill="#3030ff"/>
<g transform="translate(700.42 230.4) scale(0.698 1)" fill="#3030ff" font-size="12.6" stroke="#3030ff" stroke-width="0.15"><text x="0" y="0">U</text></g>
<path d="M703.4 233.6L703.4 246.4" stroke="#7a7aff" stroke-width="1.0" fill="none"/><path d="M703.4 249.8L701.35 245.9L705.45 245.9Z" fill="#3030ff"/>
<g transform="translate(605.48 285.1) scale(1.016 1)" fill="#ff3c3c" font-size="10.4" font-family="Liberation Sans, Arial, sans-serif" stroke="#ff3c3c" stroke-width="0.15"><text x="0" y="0">5</text><text x="6.48" y="3" font-size="8.22">42</text><text x="16.32" y="0">−</text><text x="23.1" y="0">4</text><text x="29.58" y="3" font-size="8.22">41</text></g>
<path d="M623.6 278.9L623.6 272.6" stroke="#ff6a6a" stroke-width="1.0" fill="none"/><path d="M623.6 269.6L625.65 273.1L621.55 273.1Z" fill="#ff3c3c"/>
<g transform="translate(91.4 438.4) scale(0.791 1)" fill="#3030ff" font-size="12.6" stroke="#3030ff" stroke-width="0.15"><text x="0" y="0">U</text></g>
<path d="M95.2 428.4L95.2 387.9" stroke="#7a7aff" stroke-width="1.0" fill="none"/><path d="M95.2 384.5L97.25 388.4L93.15 388.4Z" fill="#3030ff"/>
<path d="M130.6 330.4L120.8 330.4" stroke="#7a7aff" stroke-width="1.0" fill="none"/><path d="M117.4 330.4L121.3 328.35L121.3 332.45Z" fill="#3030ff"/>
<g transform="translate(132.51 334.7) scale(0.832 1)" fill="#3030ff" font-size="12.6" stroke="#3030ff" stroke-width="0.15"><text x="0" y="0">H</text><text x="9.6" y="-5.4" font-size="7.03" font-family="DejaVu Serif, serif" letter-spacing="0.5">13</text><text x="19.55" y="0">CCCN</text></g>
<g transform="translate(117.27 437.2) scale(1.027 1)" fill="#ff3c3c" font-size="10.4" font-family="Liberation Sans, Arial, sans-serif" stroke="#ff3c3c" stroke-width="0.15"><text x="0" y="0">5</text><text x="6.48" y="3" font-size="8.22">23</text><text x="16.32" y="0">−</text><text x="23.1" y="0">4</text><text x="29.58" y="3" font-size="8.22">22</text></g>
<path d="M136.3 428.4L136.3 407.9" stroke="#ff6a6a" stroke-width="1.0" fill="none"/><path d="M136.3 404.5L138.35 408.4L134.25 408.4Z" fill="#ff3c3c"/>
<g transform="translate(174.96 361.9) scale(0.864 1)" fill="#3030ff" font-size="12.6" stroke="#3030ff" stroke-width="0.15"><text x="0" y="0">C</text><text x="8.9" y="-5.4" font-size="7.03" font-family="DejaVu Serif, serif" letter-spacing="0.5">13</text><text x="18.85" y="0">CS</text></g>
<path d="M173.1 358.4L163.2 358.4" stroke="#7a7aff" stroke-width="1.0" fill="none"/>
<path d="M163.2 358.4L163.2 387.2" stroke="#7a7aff" stroke-width="1.0" fill="none"/><path d="M163.2 390.6L161.15 386.7L165.25 386.7Z" fill="#3030ff"/>
<g transform="translate(210.72 382.6) scale(0.818 1)" fill="#3030ff" font-size="12.6" stroke="#3030ff" stroke-width="0.15"><text x="0" y="0">HC</text><text x="17.5" y="2.4" font-size="7.38" font-family="DejaVu Serif, serif">4</text><text x="22.2" y="0">N</text></g>
<path d="M224.7 386L224.7 409.2" stroke="#7a7aff" stroke-width="1.0" fill="none"/><path d="M224.7 412.6L222.65 408.7L226.75 408.7Z" fill="#3030ff"/>
<g transform="translate(332.26 359.3) scale(1.036 1)" fill="#ff3c3c" font-size="10.4" font-family="Liberation Sans, Arial, sans-serif" stroke="#ff3c3c" stroke-width="0.15"><text x="0" y="0">6</text><text x="6.48" y="3" font-size="8.22">06</text><text x="16.32" y="0">−</text><text x="23.1" y="0">5</text><text x="29.58" y="3" font-size="8.22">05</text></g>
<path d="M374.2 356.6L380.1 356.6" stroke="#ff6a6a" stroke-width="1.0" fill="none"/>
<path d="M380.1 356.6L380.1 372.3" stroke="#ff6a6a" stroke-width="1.0" fill="none"/><path d="M380.1 375.7L378.05 371.8L382.15 371.8Z" fill="#ff3c3c"/>
<g transform="translate(413.37 332.4) scale(0.850 1)" fill="#3030ff" font-size="12.6" stroke="#3030ff" stroke-width="0.15"><text x="0" y="0">CH</text><text x="17.5" y="2.4" font-size="7.38" font-family="DejaVu Serif, serif">2</text><text x="22.2" y="0">NH</text></g>
<path d="M412 329.2L398.7 329.2" stroke="#7a7aff" stroke-width="1.0" fill="none"/>
<path d="M398.7 329.2L398.7 351.7" stroke="#7a7aff" stroke-width="1.0" fill="none"/><path d="M398.7 355.1L396.65 351.2L400.75 351.2Z" fill="#3030ff"/>
<g transform="translate(423.36 432.6) scale(0.879 1)" fill="#3030ff" font-size="12.6" stroke="#3030ff" stroke-width="0.15"><text x="0" y="0">C</text><text x="8.4" y="2.4" font-size="7.38" font-family="DejaVu Serif, serif">6</text><text x="13.1" y="0">H</text><text x="28.5" y="0" font-style="italic" font-family="DejaVu Serif, serif">ν</text><text x="36.16" y="2.4" font-size="7.38" font-family="DejaVu Serif, serif">11</text></g>
<path d="M437.8 422.5L437.8 412.6" stroke="#7a7aff" stroke-width="1.0" fill="none"/><path d="M437.8 409.2L439.85 413.1L435.75 413.1Z" fill="#3030ff"/>
<path d="M445.5 422.5L445.5 412.6" stroke="#7a7aff" stroke-width="1.0" fill="none"/><path d="M445.5 409.2L447.55 413.1L443.45 413.1Z" fill="#3030ff"/>
<g transform="translate(537.31 375.7) scale(0.767 1)" fill="#3030ff" font-size="12.6" stroke="#3030ff" stroke-width="0.15"><text x="0" y="0">U</text></g>
<path d="M541.1 379L541.1 398.9" stroke="#7a7aff" stroke-width="1.0" fill="none"/><path d="M541.1 402.3L539.05 398.4L543.15 398.4Z" fill="#3030ff"/>
<g transform="translate(603.46 343.6) scale(1.031 1)" fill="#ff3c3c" font-size="10.4" font-family="Liberation Sans, Arial, sans-serif" stroke="#ff3c3c" stroke-width="0.15"><text x="0" y="0">7</text><text x="6.48" y="3" font-size="8.22">07</text><text x="16.32" y="0">−</text><text x="23.1" y="0">6</text><text x="29.58" y="3" font-size="8.22">06</text></g>
<path d="M623.1 346.6L623.1 383.1" stroke="#ff6a6a" stroke-width="1.0" fill="none"/><path d="M623.1 386.5L621.05 382.6L625.15 382.6Z" fill="#ff3c3c"/>
<g transform="translate(665.14 419.5) scale(0.894 1)" fill="#3030ff" font-size="12.6" stroke="#3030ff" stroke-width="0.15"><text x="0" y="0">Si</text><text x="11.01" y="-5.4" font-size="7.03" font-family="DejaVu Serif, serif" letter-spacing="0.5">13</text><text x="20.96" y="0">CC</text></g>
<path d="M680.6 405.7L680.6 346.8" stroke="#7a7aff" stroke-width="1.0" fill="none"/><path d="M680.6 343.4L682.65 347.3L678.55 347.3Z" fill="#3030ff"/>
<g transform="translate(665.48 439.7) scale(0.832 1)" fill="#3030ff" font-size="12.6" stroke="#3030ff" stroke-width="0.15"><text x="0" y="0">CH</text><text x="17.5" y="2.4" font-size="7.38" font-family="DejaVu Serif, serif">2</text><text x="22.2" y="0">CN</text></g>
<path d="M669.9 430.6L669.9 427" stroke="#7a7aff" stroke-width="1.0" fill="none"/><path d="M669.9 423.9L672 427.5L667.8 427.5Z" fill="#3030ff"/>
<path d="M693.9 430.6L693.9 427" stroke="#7a7aff" stroke-width="1.0" fill="none"/><path d="M693.9 423.9L696 427.5L691.8 427.5Z" fill="#3030ff"/>
<g transform="translate(16.28 114.2) scale(1.085 1)" fill="#2a2a2a" font-size="12.8"><text x="0" y="0">0</text></g>
<g transform="translate(8.62 38) scale(1.143 1)" fill="#2a2a2a" font-size="12.8"><text x="0" y="0">10</text></g>
<g transform="translate(55.65 151.9) scale(1.146 1)" fill="#2a2a2a" font-size="12.9"><text x="0" y="0">41700</text></g>
<g transform="translate(217.35 151.9) scale(1.146 1)" fill="#2a2a2a" font-size="12.9"><text x="0" y="0">41730</text></g>
<g transform="translate(258.88 116.7) scale(1.085 1)" fill="#2a2a2a" font-size="12.8"><text x="0" y="0">0</text></g>
<g transform="translate(251.22 50) scale(1.143 1)" fill="#2a2a2a" font-size="12.8"><text x="0" y="0">10</text></g>
<g transform="translate(313.59 151.9) scale(1.154 1)" fill="#2a2a2a" font-size="12.9"><text x="0" y="0">82770</text></g>
<g transform="translate(394.59 151.9) scale(1.154 1)" fill="#2a2a2a" font-size="12.9"><text x="0" y="0">82800</text></g>
<g transform="translate(501.48 116.9) scale(1.085 1)" fill="#2a2a2a" font-size="12.8"><text x="0" y="0">0</text></g>
<g transform="translate(493.82 50.2) scale(1.143 1)" fill="#2a2a2a" font-size="12.8"><text x="0" y="0">10</text></g>
<g transform="translate(547.89 151.9) scale(1.154 1)" fill="#2a2a2a" font-size="12.9"><text x="0" y="0">83490</text></g>
<g transform="translate(628.8 151.9) scale(1.154 1)" fill="#2a2a2a" font-size="12.9"><text x="0" y="0">83520</text></g>
<g transform="translate(709.71 151.9) scale(1.154 1)" fill="#2a2a2a" font-size="12.9"><text x="0" y="0">83550</text></g>
<g transform="translate(16.28 266.8) scale(1.085 1)" fill="#2a2a2a" font-size="12.8"><text x="0" y="0">0</text></g>
<g transform="translate(8.62 177.3) scale(1.143 1)" fill="#2a2a2a" font-size="12.8"><text x="0" y="0">10</text></g>
<g transform="translate(27.29 307.8) scale(1.154 1)" fill="#2a2a2a" font-size="12.9"><text x="0" y="0">84270</text></g>
<g transform="translate(108.2 307.8) scale(1.154 1)" fill="#2a2a2a" font-size="12.9"><text x="0" y="0">84300</text></g>
<g transform="translate(189.11 307.8) scale(1.154 1)" fill="#2a2a2a" font-size="12.9"><text x="0" y="0">84330</text></g>
<g transform="translate(258.88 273.9) scale(1.085 1)" fill="#2a2a2a" font-size="12.8"><text x="0" y="0">0</text></g>
<g transform="translate(251.22 207) scale(1.143 1)" fill="#2a2a2a" font-size="12.8"><text x="0" y="0">10</text></g>
<g transform="translate(256.8 307.8) scale(1.149 1)" fill="#2a2a2a" font-size="12.9"><text x="0" y="0">102870</text></g>
<g transform="translate(337.59 307.8) scale(1.149 1)" fill="#2a2a2a" font-size="12.9"><text x="0" y="0">102900</text></g>
<g transform="translate(418.38 307.8) scale(1.149 1)" fill="#2a2a2a" font-size="12.9"><text x="0" y="0">102930</text></g>
<g transform="translate(501.48 273.8) scale(1.085 1)" fill="#2a2a2a" font-size="12.8"><text x="0" y="0">0</text></g>
<g transform="translate(493.82 206.9) scale(1.143 1)" fill="#2a2a2a" font-size="12.8"><text x="0" y="0">10</text></g>
<g transform="translate(527.8 307.8) scale(1.149 1)" fill="#2a2a2a" font-size="12.9"><text x="0" y="0">104580</text></g>
<g transform="translate(598.3 307.8) scale(1.149 1)" fill="#2a2a2a" font-size="12.9"><text x="0" y="0">104610</text></g>
<g transform="translate(668.8 307.8) scale(1.149 1)" fill="#2a2a2a" font-size="12.9"><text x="0" y="0">104640</text></g>
<g transform="translate(16.28 424.8) scale(1.085 1)" fill="#2a2a2a" font-size="12.8"><text x="0" y="0">0</text></g>
<g transform="translate(8.62 360.9) scale(1.143 1)" fill="#2a2a2a" font-size="12.8"><text x="0" y="0">10</text></g>
<g transform="translate(15.9 464.7) scale(1.149 1)" fill="#2a2a2a" font-size="12.9"><text x="0" y="0">105810</text></g>
<g transform="translate(86.25 464.7) scale(1.149 1)" fill="#2a2a2a" font-size="12.9"><text x="0" y="0">105840</text></g>
<g transform="translate(156.6 464.7) scale(1.149 1)" fill="#2a2a2a" font-size="12.9"><text x="0" y="0">105870</text></g>
<g transform="translate(258.88 417.1) scale(1.085 1)" fill="#2a2a2a" font-size="12.8"><text x="0" y="0">0</text></g>
<g transform="translate(251.22 375.2) scale(1.143 1)" fill="#2a2a2a" font-size="12.8"><text x="0" y="0">10</text></g>
<g transform="translate(251.91 333.3) scale(1.087 1)" fill="#2a2a2a" font-size="12.8"><text x="0" y="0">20</text></g>
<g transform="translate(262.4 464.7) scale(1.149 1)" fill="#2a2a2a" font-size="12.9"><text x="0" y="0">122640</text></g>
<g transform="translate(327.35 464.7) scale(1.149 1)" fill="#2a2a2a" font-size="12.9"><text x="0" y="0">122670</text></g>
<g transform="translate(392.3 464.7) scale(1.149 1)" fill="#2a2a2a" font-size="12.9"><text x="0" y="0">122700</text></g>
<g transform="translate(457.25 464.7) scale(1.149 1)" fill="#2a2a2a" font-size="12.9"><text x="0" y="0">122730</text></g>
<g transform="translate(501.48 423) scale(1.085 1)" fill="#2a2a2a" font-size="12.8"><text x="0" y="0">0</text></g>
<g transform="translate(493.82 321.7) scale(1.143 1)" fill="#2a2a2a" font-size="12.8"><text x="0" y="0">10</text></g>
<g transform="translate(544 464.7) scale(1.149 1)" fill="#2a2a2a" font-size="12.9"><text x="0" y="0">142080</text></g>
<g transform="translate(602.94 464.7) scale(1.164 1)" fill="#2a2a2a" font-size="12.9"><text x="0" y="0">142110</text></g>
<g transform="translate(661.9 464.7) scale(1.149 1)" fill="#2a2a2a" font-size="12.9"><text x="0" y="0">142140</text></g>
<g transform="translate(8.84 57) scale(0.693 1)" fill="#2a2a2a" font-size="13"><text x="0" y="0">T</text></g>
<g transform="translate(16.64 50.3) scale(0.696 1)" fill="#2a2a2a" font-size="7.5" stroke="#2a2a2a" stroke-width="0.35"><text x="0" y="0">*</text></g>
<g transform="translate(15.73 60) scale(0.816 1)" fill="#2a2a2a" font-size="8" stroke="#2a2a2a" stroke-width="0.25"><text x="0" y="0">A</text></g>
<g transform="translate(-0.36 69.9) scale(1.021 1)" fill="#2a2a2a" font-size="13"><text x="0" y="0">(mK)</text></g>
<g transform="translate(116.1 478.4) scale(0.986 1)" fill="#2a2a2a" font-size="12.6"><text x="0" y="0" font-style="italic" font-family="DejaVu Serif, serif">ν</text><text x="7.96" y="0">(MHz)</text></g>
<g transform="translate(359 478.4) scale(0.986 1)" fill="#2a2a2a" font-size="12.6"><text x="0" y="0" font-style="italic" font-family="DejaVu Serif, serif">ν</text><text x="7.96" y="0">(MHz)</text></g>
<g transform="translate(602.4 478.4) scale(0.986 1)" fill="#2a2a2a" font-size="12.6"><text x="0" y="0" font-style="italic" font-family="DejaVu Serif, serif">ν</text><text x="7.96" y="0">(MHz)</text></g>
</svg></body></html>
